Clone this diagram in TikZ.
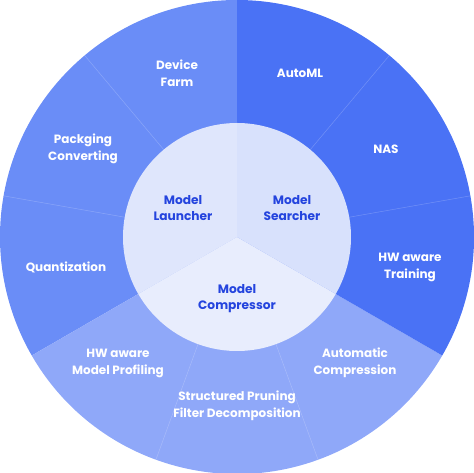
\documentclass[tikz,border=0pt]{standalone}
\usepackage{fontspec}
\setmainfont{Poppins}
\usetikzlibrary{positioning}
\definecolor{launchring}{RGB}{106,141,247}
\definecolor{searchring}{RGB}{74,114,245}
\definecolor{compressring}{RGB}{143,168,249}
\definecolor{launchcore}{RGB}{223,230,252}
\definecolor{searchcore}{RGB}{216,225,252}
\definecolor{compresscore}{RGB}{232,237,253}
\definecolor{coretext}{RGB}{36,68,222}
\tikzset{
    ringlabel/.style={
    text=white,align=center,font=\bfseries\fontsize{12}{17}\selectfont
    },
    corelabel/.style={
    text=coretext,align=center,font=\bfseries\fontsize{12.2}{16}\selectfont
    },
    divider/.style={
    draw=white,draw opacity=0.22,line width=0.5pt
    },
}
\begin{document}
\begin{tikzpicture}[x=1pt,y=1pt]
   \useasboundingbox (-237,-236) rectangle (237,237);
   % outer ring
   \fill[launchring] (0,0) -- (90:237) arc[start angle=90,end angle=210,radius=237] -- cycle;
   \fill[compressring] (0,0) -- (210:237) arc[start angle=210,end angle=330,radius=237] -- cycle;
   \fill[searchring] (0,0) -- (330:237) arc[start angle=330,end angle=450,radius=237] -- cycle;
   \foreach \a in {10,50,130,170,250,290}
     \draw[divider] (\a:114) -- (\a:237);
   % inner circle
   \fill[launchcore] (0,0) -- (90:114) arc[start angle=90,end angle=210,radius=114] -- cycle;
   \fill[compresscore] (0,0) -- (210:114) arc[start angle=210,end angle=330,radius=114] -- cycle;
   \fill[searchcore] (0,0) -- (330:114) arc[start angle=330,end angle=450,radius=114] -- cycle;

   \node[ringlabel] (devicefarm) at (-60,164) {Device\\Farm};
   \node[ringlabel] (automl) at (63,164) {AutoML};
   \node[ringlabel] (nas) at (149,88) {NAS};
   \node[ringlabel] (hwtraining) at (173,-30) {HW aware\\Training};
   \node[ringlabel] (packaging) at (-154,88) {Packging\\Converting};
   \node[ringlabel] (quantization) at (-171,-30) {Quantization};
   \node[ringlabel] (hwprofiling) at (-119,-126) {HW aware\\Model Profiling};
   \node[ringlabel] (pruning) at (0,-169) {Structured Pruning\\Filter Decomposition};
   \node[ringlabel] (autocompress) at (118,-126) {Automatic\\Compression};

   \node[corelabel] (launcher) at (-54,29) {Model\\Launcher};
   \node[corelabel] (searcher) at (55,29) {Model\\Searcher};
   \node[corelabel] (compressor) at (0,-62) {Model\\Compressor};
\end{tikzpicture}
\end{document}
